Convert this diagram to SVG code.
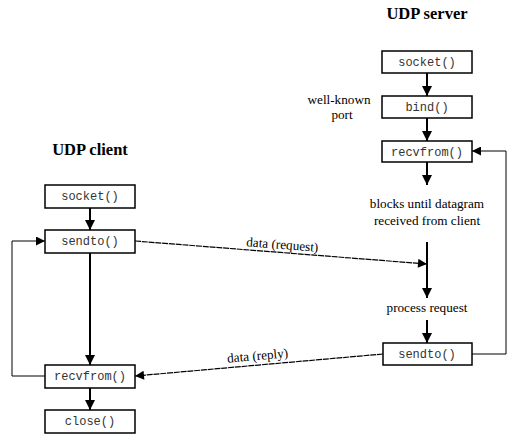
<svg xmlns="http://www.w3.org/2000/svg" width="515" height="442" viewBox="0 0 515 442">
<style>
.box{fill:#fff;stroke:#000;stroke-width:1.5}
.fn{font-family:"Liberation Mono","Courier New",monospace;font-size:12px;fill:#333;text-anchor:middle}
.lbl{font-family:"Liberation Serif","Times New Roman",serif;font-size:13.2px;fill:#000;text-anchor:middle}
.title{font-family:"Liberation Serif","Times New Roman",serif;font-size:16.5px;font-weight:bold;fill:#000;text-anchor:middle}
.main{stroke:#000;stroke-width:2;fill:none}
.thin{stroke:#000;stroke-width:1;fill:none}
.dash{stroke:#000;stroke-width:1.2;fill:none;stroke-dasharray:6 0.8}
</style>
<defs>
<marker id="ah" viewBox="0 0 10 10" refX="10" refY="5" markerWidth="10" markerHeight="10" markerUnits="userSpaceOnUse" orient="auto">
<path d="M0,0 L10,5 L0,10 z" fill="#000"/>
</marker>
<marker id="ahs" viewBox="0 0 10 10" refX="10" refY="5" markerWidth="10" markerHeight="9" markerUnits="userSpaceOnUse" orient="auto">
<path d="M0,0 L10,5 L0,10 z" fill="#000"/>
</marker>
</defs>
<text class="title" x="427" y="19">UDP server</text>
<text class="title" x="90" y="155">UDP client</text>
<g id="labels">
<text class="lbl" x="339" y="104">well-known</text>
<text class="lbl" x="342" y="119">port</text>
<text class="lbl" x="427" y="208">blocks until datagram</text>
<text class="lbl" x="427" y="225">received from client</text>
<text class="lbl" x="427" y="312">process request</text>
</g>
<g id="connectors">
<line class="main" x1="427" y1="73" x2="427" y2="96" marker-end="url(#ah)"/>
<line class="main" x1="427" y1="118" x2="427" y2="141" marker-end="url(#ah)"/>
<line class="main" x1="427" y1="162" x2="427" y2="185" marker-end="url(#ah)"/>
<line class="main" x1="427" y1="242" x2="427" y2="298" marker-end="url(#ah)"/>
<line class="main" x1="427" y1="320" x2="427" y2="343" marker-end="url(#ah)"/>
<polyline class="thin" points="472,354 506,354 506,151 472,151" marker-end="url(#ahs)"/>
<line class="main" x1="90" y1="208" x2="90" y2="230" marker-end="url(#ah)"/>
<line class="main" x1="90" y1="253" x2="90" y2="365" marker-end="url(#ah)"/>
<line class="main" x1="90" y1="388" x2="90" y2="410" marker-end="url(#ah)"/>
<polyline class="thin" points="45,376 12,376 12,241 45,241" marker-end="url(#ahs)"/>
<line class="dash" x1="135" y1="241" x2="427" y2="264" marker-end="url(#ahs)"/>
<line class="dash" x1="383" y1="354" x2="135" y2="376" marker-end="url(#ahs)"/>
<text class="lbl" x="282" y="249" transform="rotate(4.5 282 249)">data (request)</text>
<text class="lbl" x="258" y="360" transform="rotate(-5 258 360)">data (reply)</text>
</g>
<g id="srv-socket"><rect class="box" x="382" y="51" width="90" height="22"/><text class="fn" x="427" y="66">socket()</text></g>
<g id="srv-bind"><rect class="box" x="382" y="96" width="90" height="22"/><text class="fn" x="427" y="111">bind()</text></g>
<g id="srv-recvfrom"><rect class="box" x="382" y="141" width="90" height="21"/><text class="fn" x="427" y="156">recvfrom()</text></g>
<g id="srv-sendto"><rect class="box" x="383" y="343" width="89" height="22"/><text class="fn" x="427" y="358">sendto()</text></g>
<g id="cli-socket"><rect class="box" x="45" y="185" width="90" height="23"/><text class="fn" x="90" y="200">socket()</text></g>
<g id="cli-sendto"><rect class="box" x="45" y="230" width="90" height="23"/><text class="fn" x="90" y="245">sendto()</text></g>
<g id="cli-recvfrom"><rect class="box" x="45" y="365" width="90" height="23"/><text class="fn" x="90" y="380">recvfrom()</text></g>
<g id="cli-close"><rect class="box" x="45" y="410" width="90" height="23"/><text class="fn" x="90" y="425">close()</text></g>
</svg>
